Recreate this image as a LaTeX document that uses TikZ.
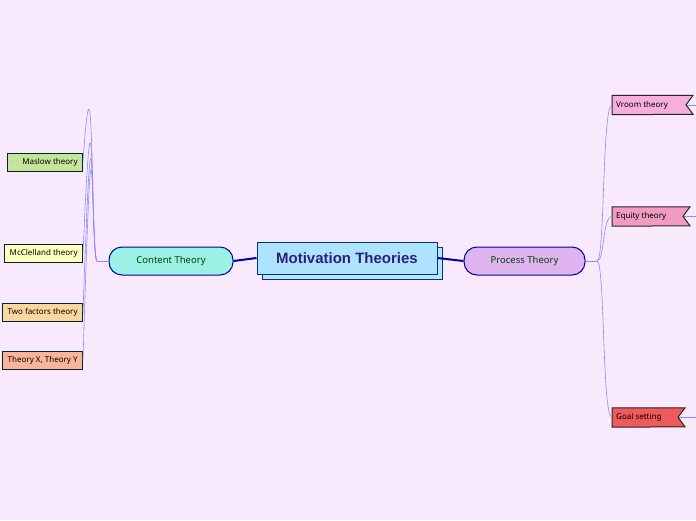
\documentclass[tikz,border=0pt]{standalone}
\usepackage{fontspec}
\setmainfont{Noto Sans}
\newfontfamily\titlefont{Liberation Sans}
\begin{document}
\begin{tikzpicture}[x=1pt,y=-1pt,
  leaf/.style={draw=black!70!teal,line width=0.8pt,font=\fontsize{8}{9}\selectfont,inner xsep=5pt,minimum height=18pt,anchor=east},
  rib/.style={font=\fontsize{8}{9}\selectfont,inner xsep=4pt,minimum height=19pt,anchor=west},
  mid/.style={draw=blue!60!black,line width=1pt,rounded corners=13pt,font=\bfseries\fontsize{9.5}{11}\selectfont,text=green!25!black,minimum height=28pt},
  thin/.style={draw=blue!45!white,line width=0.6pt},
  main/.style={draw=blue!70!black,line width=2pt}]
\definecolor{bg}{HTML}{F9E9FC}
\fill[bg] (0,0) rectangle (696,520);
\useasboundingbox (0,0) rectangle (696,520);
\clip (0,0) rectangle (696,520);
% central
\fill[fill=cyan!30, draw=blue!40!black!80!cyan, line width=1pt] (262,247) rectangle (442,279);
\node[draw=blue!40!black!80!cyan,line width=1pt,fill={rgb,255:red,173;green,227;blue,253},minimum width=180pt,minimum height=32pt,text={rgb,255:red,42;green,32;blue,128},font=\titlefont\bfseries\fontsize{15}{17}\selectfont] (c) at (347,258) {Motivation Theories};
\node[mid,fill={rgb,255:red,155;green,242;blue,228},minimum width=124pt] (ct) at (171,261) {Content Theory};
\node[mid,fill={rgb,255:red,224;green,180;blue,240},minimum width=121pt] (pt) at (524.5,261) {Process Theory};
\draw[main] (c.west) -- (ct.east);
\draw[main] (c.east) -- (pt.west);
% left leaves
\node[leaf,fill={rgb,255:red,197;green,229;blue,154}] (m) at (83,162) {\textcolor{teal}{$\cdot$}\hspace{8pt}Maslow theory};
\node[leaf,fill={rgb,255:red,255;green,255;blue,192}] (mc) at (83,253.5) {McClelland theory};
\node[leaf,fill={rgb,255:red,250;green,215;blue,160}] (tf) at (83,312) {Two factors theory};
\node[leaf,fill={rgb,255:red,248;green,181;blue,154}] (tx) at (83,360) {Theory X, Theory Y};
\coordinate (hl) at (97,261);
\draw[thin] (ct.west) -- (hl);
\foreach \n in {m,mc,tf,tx}{\draw[thin] (hl) .. controls (91,261) and (94,{0}) .. (\n.east);}
% right ribbons
\coordinate (hr) at (597,261);
\draw[thin] (pt.east) -- (hr);
\foreach \n/\y/\w/\t/\col in {v/105/69/Vroom theory/{247,174,221},e/216.5/66/Equity theory/{242,155,192},g/417.5/61/Goal setting/{240,90,90}}{
  \node[rib] (\n) at (612,\y) {\t};
  \definecolor{tmp}{RGB}{\col}
  \draw[thin] (\n.east) ++(3,0) -- (696,\y);
  \filldraw[fill=tmp,draw=black!85,line width=1pt] (\n.north west) -- ++(\w+12,0) -- ++(-7,9.5) -- ++(7,9.5) -- (\n.south west) -- cycle;
  \node[rib] at (612,\y) {\t};
  \draw[thin] (hr) .. controls (605,261) and (602,\y) .. (\n.west);
}
\end{tikzpicture}
\end{document}
